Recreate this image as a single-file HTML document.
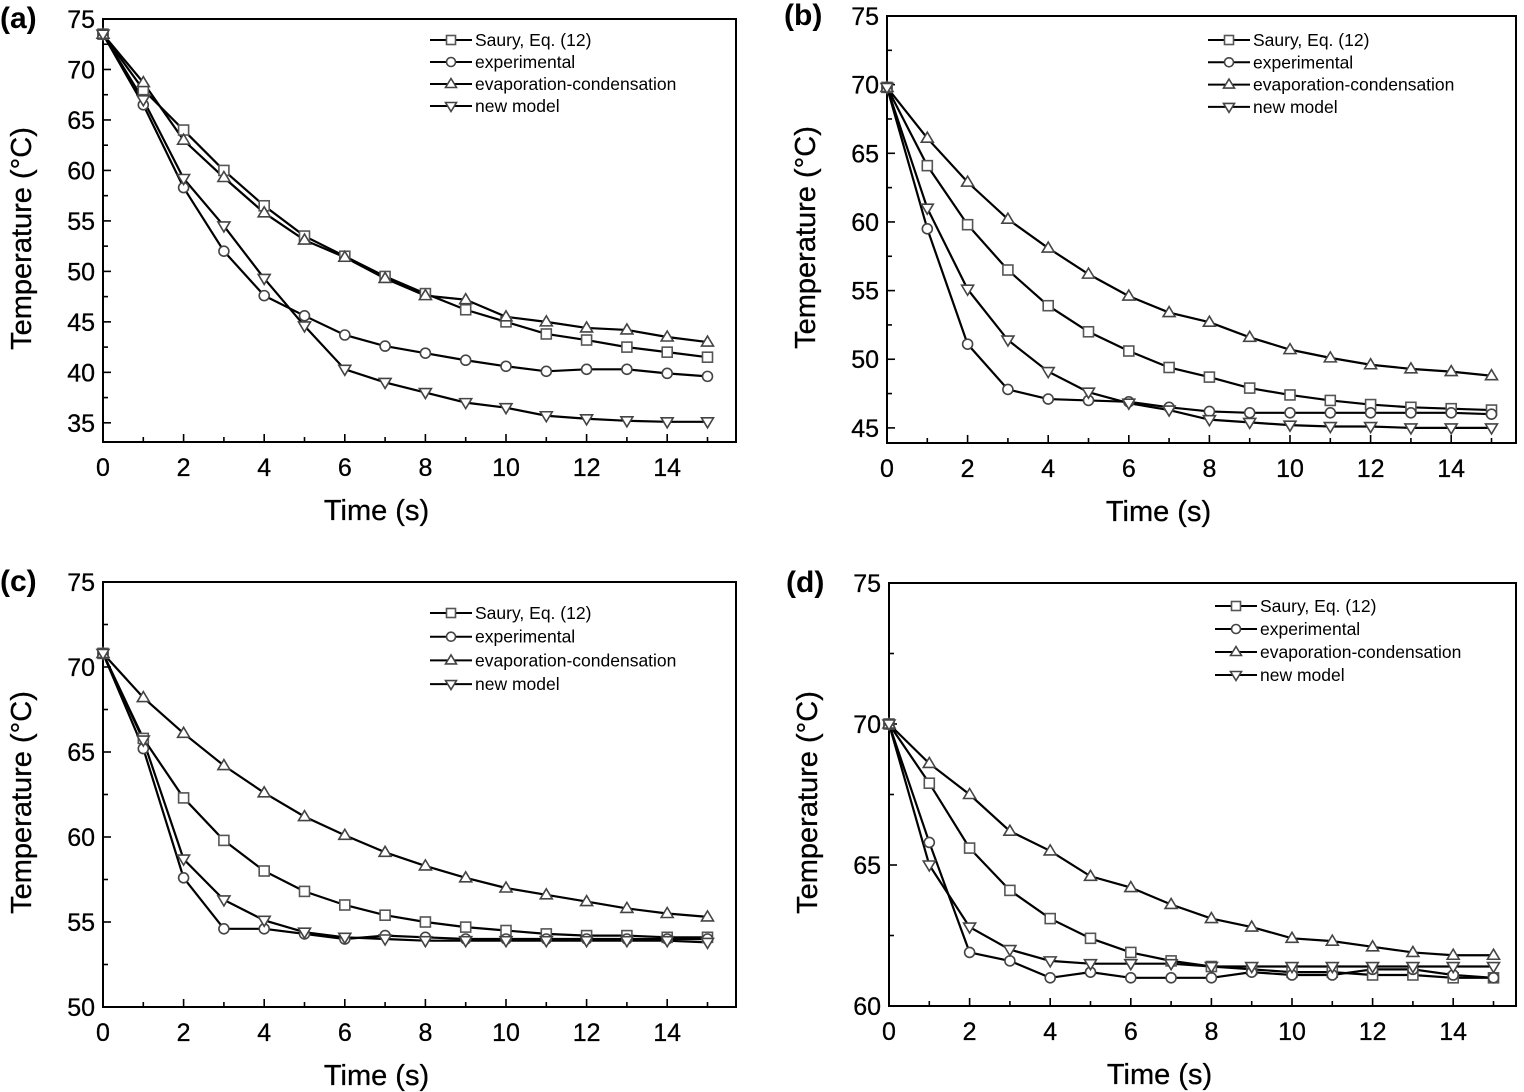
<!DOCTYPE html>
<html><head><meta charset="utf-8"><style>
html,body{margin:0;padding:0;background:#fff;}
svg{display:block;}
text{font-family:"Liberation Sans",Arial,sans-serif;fill:#000;}
.h{stroke:#000;stroke-width:0.3;}
</style></head><body>
<svg id="s" width="1524" height="1092" xmlns="http://www.w3.org/2000/svg"></svg>
<script>
const P=[
 {lab:"(a)",x0:103,x1:736,y0:19,y1:442,ymin:33.1,ymax:75,ticks:[35,40,45,50,55,60,65,70,75],leg:[430,40,22],
  d:[[73.5,68,64,60,56.5,53.5,51.5,49.5,47.8,46.2,45,43.8,43.2,42.5,42,41.5],
     [73.5,66.5,58.3,52,47.6,45.6,43.7,42.6,41.9,41.2,40.6,40.1,40.3,40.3,39.9,39.6],
     [73.5,68.7,63,59.3,55.8,53.1,51.4,49.3,47.6,47.2,45.5,45,44.4,44.2,43.5,43],
     [73.5,67,59.2,54.5,49.3,44.6,40.3,39,38,37,36.5,35.7,35.4,35.2,35.1,35.1]]},
 {lab:"(b)",x0:887,x1:1516,y0:16,y1:443,ymin:43.9,ymax:75,ticks:[45,50,55,60,65,70,75],leg:[1208,40,22.3],
  d:[[69.8,64.1,59.8,56.5,53.9,52,50.6,49.4,48.7,47.9,47.4,47,46.7,46.5,46.4,46.3],
     [69.8,59.5,51.1,47.8,47.1,47,46.9,46.5,46.2,46.1,46.1,46.1,46.1,46.1,46.1,46.0],
     [69.8,66.1,62.9,60.2,58.1,56.2,54.6,53.4,52.7,51.6,50.7,50.1,49.6,49.3,49.1,48.8],
     [69.8,61,55.1,51.4,49.1,47.6,46.8,46.3,45.6,45.4,45.2,45.1,45.1,45,45,45]]},
 {lab:"(c)",x0:103,x1:736,y0:582,y1:1007,ymin:50,ymax:75,ticks:[50,55,60,65,70,75],leg:[430,613,23.7],
  d:[[70.8,65.8,62.3,59.8,58,56.8,56,55.4,55,54.7,54.5,54.3,54.2,54.2,54.1,54.1],
     [70.8,65.2,57.6,54.6,54.6,54.3,54,54.2,54.1,54,54,54,54,54,54,54],
     [70.8,68.2,66.1,64.2,62.6,61.2,60.1,59.1,58.3,57.6,57,56.6,56.2,55.8,55.5,55.3],
     [70.8,65.7,58.7,56.3,55.1,54.4,54.1,54,53.9,53.9,53.9,53.9,53.9,53.9,53.9,53.8]]},
 {lab:"(d)",x0:889,x1:1516,y0:583,y1:1006,ymin:60,ymax:75,ticks:[60,65,70,75],leg:[1215,606,23],
  d:[[70,67.9,65.6,64.1,63.1,62.4,61.9,61.6,61.4,61.3,61.2,61.2,61.1,61.1,61.0,61.0],
     [70,65.8,61.9,61.6,61.0,61.2,61.0,61.0,61.0,61.2,61.1,61.1,61.3,61.3,61.1,61.0],
     [70,68.6,67.5,66.2,65.5,64.6,64.2,63.6,63.1,62.8,62.4,62.3,62.1,61.9,61.8,61.8],
     [70,65,62.8,62.0,61.6,61.5,61.5,61.5,61.4,61.4,61.4,61.4,61.4,61.4,61.4,61.4]]}
];
const names=["Saury, Eq. (12)","experimental","evaporation-condensation","new model"];
let h="";
function mk(t,x,y,r){
 if(t==0)return `<rect x="${x-r}" y="${y-r}" width="${2*r}" height="${2*r}" fill="#fff" stroke="#555" stroke-width="1.6"/>`;
 if(t==1)return `<circle cx="${x}" cy="${y}" r="${r}" fill="#fff" stroke="#444" stroke-width="1.6"/>`;
 if(t==2)return `<polygon points="${x},${y-r-1} ${x-r-1},${y+r-1} ${x+r+1},${y+r-1}" fill="#fff" stroke="#444" stroke-width="1.6"/>`;
 return `<polygon points="${x},${y+r+1} ${x-r-1},${y-r+1} ${x+r+1},${y-r+1}" fill="#fff" stroke="#444" stroke-width="1.6"/>`;
}
for(const p of P){
 const sx=40.3, X=t=>p.x0+t*sx, Y=v=>p.y1-(v-p.ymin)/(p.ymax-p.ymin)*(p.y1-p.y0);
 h+=`<rect x="${p.x0}" y="${p.y0}" width="${p.x1-p.x0}" height="${p.y1-p.y0}" fill="none" stroke="#000" stroke-width="2"/>`;
 for(let t=0;t<=15;t++){const l=t%2?5:8;h+=`<line x1="${X(t)}" y1="${p.y1}" x2="${X(t)}" y2="${p.y1-l}" stroke="#000" stroke-width="1.6"/>`;
  if(t%2==0&&t<=14)h+=`<text class="h" x="${X(t)}" y="${p.y1+34}" font-size="25" text-anchor="middle">${t}</text>`;}
 const tk=p.ticks;
 for(let i=0;i<tk.length;i++){const v=tk[i];h+=`<line x1="${p.x0}" y1="${Y(v)}" x2="${p.x0+8}" y2="${Y(v)}" stroke="#000" stroke-width="1.6"/>`;
  h+=`<text class="h" x="${p.x0-8}" y="${Y(v)+9}" font-size="25" text-anchor="end">${v}</text>`;
  const m=v+2.5; if(m<p.ymax)h+=`<line x1="${p.x0}" y1="${Y(m)}" x2="${p.x0+5}" y2="${Y(m)}" stroke="#000" stroke-width="1.6"/>`;}
 h+=`<text x="${p.x0-103}" y="${p.y0+9}" font-size="30" font-weight="bold">${p.lab}</text>`;
 const cy=(p.y0+p.y1)/2+8;
 h+=`<text class="h" transform="translate(${p.x0-72},${cy}) rotate(-90)" font-size="29" text-anchor="middle">Temperature (°C)</text>`;
 h+=`<text class="h" x="${(p.x0+p.x1)/2-43}" y="${p.y1+78}" font-size="29" text-anchor="middle">Time (s)</text>`;
 for(let k=0;k<4;k++){const pts=p.d[k].map((v,i)=>X(i)+","+Y(v)).join(" ");
  h+=`<polyline points="${pts}" fill="none" stroke="#000" stroke-width="2.2"/>`;}
 for(let k=0;k<4;k++)p.d[k].forEach((v,i)=>h+=mk(k,X(i),Y(v),5));
 const [lx,ly,ld]=p.leg;
 for(let k=0;k<4;k++){const y=ly+k*ld;
  h+=`<line x1="${lx}" y1="${y}" x2="${lx+42}" y2="${y}" stroke="#000" stroke-width="2"/>`+mk(k,lx+21,y,4.5);
  h+=`<text x="${lx+45}" y="${y+6}" font-size="17.5">${names[k]}</text>`;}
}
document.getElementById("s").innerHTML=h;
</script>
</body></html>
